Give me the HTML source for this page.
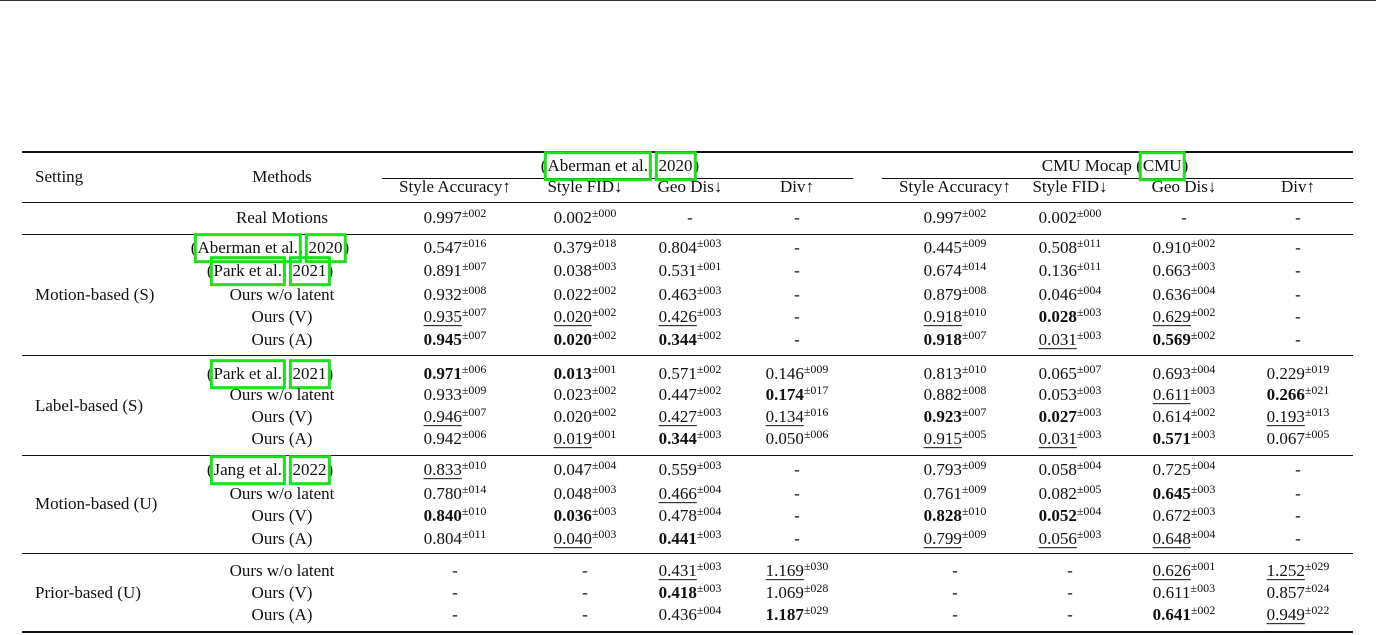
<!DOCTYPE html>
<html><head><meta charset="utf-8"><style>
body{margin:0;width:1376px;height:635px;background:#fff;position:relative;overflow:hidden;font-family:"Liberation Serif",serif;color:#111;font-size:17px}
.c{position:absolute;transform:translate(-50%,-52%);white-space:nowrap;line-height:1}
.l{position:absolute;transform:translateY(-52%);white-space:nowrap;line-height:1}
sup{font-size:12px;vertical-align:6px;line-height:0}
u{text-decoration:underline;text-underline-offset:3px}
.h{position:absolute;background:#111}
.g{outline:3px solid #22dd22;outline-offset:0;padding:2px 1px 3px 1px}
</style></head><body>
<div class="h" style="left:0;top:0;width:1376px;height:1px;background:#333"></div>
<div class="h" style="left:22px;top:151px;width:1331px;height:1.5px"></div>
<div class="h" style="left:382px;top:178px;width:471px;height:1px"></div>
<div class="h" style="left:882px;top:178px;width:471px;height:1px"></div>
<div class="h" style="left:22px;top:202px;width:1331px;height:1px"></div>
<div class="h" style="left:22px;top:234px;width:1331px;height:1px"></div>
<div class="h" style="left:22px;top:355px;width:1331px;height:1px"></div>
<div class="h" style="left:22px;top:455px;width:1331px;height:1px"></div>
<div class="h" style="left:22px;top:553px;width:1331px;height:1px"></div>
<div class="h" style="left:22px;top:631px;width:1331px;height:1.5px"></div>

<div class="l" style="left:35px;top:177px">Setting</div>
<div class="c" style="left:282px;top:177px">Methods</div>
<div class="c" style="left:620px;top:166px">(<span class="g">Aberman et al.</span>, <span class="g">2020</span>)</div>
<div class="c" style="left:1115px;top:166px">CMU Mocap (<span class="g">CMU</span>)</div>
<div class="c" style="left:455px;top:187px">Style Accuracy↑</div>
<div class="c" style="left:585px;top:187px">Style FID↓</div>
<div class="c" style="left:690px;top:187px">Geo Dis↓</div>
<div class="c" style="left:797px;top:187px">Div↑</div>
<div class="c" style="left:955px;top:187px">Style Accuracy↑</div>
<div class="c" style="left:1070px;top:187px">Style FID↓</div>
<div class="c" style="left:1184px;top:187px">Geo Dis↓</div>
<div class="c" style="left:1298px;top:187px">Div↑</div>

<!-- Real -->
<div class="c" style="left:282px;top:218px">Real Motions</div>
<div class="c" style="left:455px;top:218px">0.997<sup>±002</sup></div>
<div class="c" style="left:585px;top:218px">0.002<sup>±000</sup></div>
<div class="c" style="left:690px;top:218px">-</div>
<div class="c" style="left:797px;top:218px">-</div>
<div class="c" style="left:955px;top:218px">0.997<sup>±002</sup></div>
<div class="c" style="left:1070px;top:218px">0.002<sup>±000</sup></div>
<div class="c" style="left:1184px;top:218px">-</div>
<div class="c" style="left:1298px;top:218px">-</div>

<!-- Motion-based S -->
<div class="l" style="left:35px;top:295px">Motion-based (S)</div>
<div class="c" style="left:270px;top:248px">(<span class="g">Aberman et al.</span>, <span class="g">2020</span>)</div>
<div class="c" style="left:270px;top:271px">(<span class="g">Park et al.</span>, <span class="g">2021</span>)</div>
<div class="c" style="left:282px;top:295px">Ours w/o latent</div>
<div class="c" style="left:282px;top:317px">Ours (V)</div>
<div class="c" style="left:282px;top:340px">Ours (A)</div>

<div class="c" style="left:455px;top:248px">0.547<sup>±016</sup></div>
<div class="c" style="left:585px;top:248px">0.379<sup>±018</sup></div>
<div class="c" style="left:690px;top:248px">0.804<sup>±003</sup></div>
<div class="c" style="left:797px;top:248px">-</div>
<div class="c" style="left:955px;top:248px">0.445<sup>±009</sup></div>
<div class="c" style="left:1070px;top:248px">0.508<sup>±011</sup></div>
<div class="c" style="left:1184px;top:248px">0.910<sup>±002</sup></div>
<div class="c" style="left:1298px;top:248px">-</div>

<div class="c" style="left:455px;top:271px">0.891<sup>±007</sup></div>
<div class="c" style="left:585px;top:271px">0.038<sup>±003</sup></div>
<div class="c" style="left:690px;top:271px">0.531<sup>±001</sup></div>
<div class="c" style="left:797px;top:271px">-</div>
<div class="c" style="left:955px;top:271px">0.674<sup>±014</sup></div>
<div class="c" style="left:1070px;top:271px">0.136<sup>±011</sup></div>
<div class="c" style="left:1184px;top:271px">0.663<sup>±003</sup></div>
<div class="c" style="left:1298px;top:271px">-</div>

<div class="c" style="left:455px;top:295px">0.932<sup>±008</sup></div>
<div class="c" style="left:585px;top:295px">0.022<sup>±002</sup></div>
<div class="c" style="left:690px;top:295px">0.463<sup>±003</sup></div>
<div class="c" style="left:797px;top:295px">-</div>
<div class="c" style="left:955px;top:295px">0.879<sup>±008</sup></div>
<div class="c" style="left:1070px;top:295px">0.046<sup>±004</sup></div>
<div class="c" style="left:1184px;top:295px">0.636<sup>±004</sup></div>
<div class="c" style="left:1298px;top:295px">-</div>

<div class="c" style="left:455px;top:317px"><u>0.935</u><sup>±007</sup></div>
<div class="c" style="left:585px;top:317px"><u>0.020</u><sup>±002</sup></div>
<div class="c" style="left:690px;top:317px"><u>0.426</u><sup>±003</sup></div>
<div class="c" style="left:797px;top:317px">-</div>
<div class="c" style="left:955px;top:317px"><u>0.918</u><sup>±010</sup></div>
<div class="c" style="left:1070px;top:317px"><b>0.028</b><sup>±003</sup></div>
<div class="c" style="left:1184px;top:317px"><u>0.629</u><sup>±002</sup></div>
<div class="c" style="left:1298px;top:317px">-</div>

<div class="c" style="left:455px;top:340px"><b>0.945</b><sup>±007</sup></div>
<div class="c" style="left:585px;top:340px"><b>0.020</b><sup>±002</sup></div>
<div class="c" style="left:690px;top:340px"><b>0.344</b><sup>±002</sup></div>
<div class="c" style="left:797px;top:340px">-</div>
<div class="c" style="left:955px;top:340px"><b>0.918</b><sup>±007</sup></div>
<div class="c" style="left:1070px;top:340px"><u>0.031</u><sup>±003</sup></div>
<div class="c" style="left:1184px;top:340px"><b>0.569</b><sup>±002</sup></div>
<div class="c" style="left:1298px;top:340px">-</div>

<!-- Label-based S -->
<div class="l" style="left:35px;top:406px">Label-based (S)</div>
<div class="c" style="left:270px;top:374px">(<span class="g">Park et al.</span>, <span class="g">2021</span>)</div>
<div class="c" style="left:282px;top:395px">Ours w/o latent</div>
<div class="c" style="left:282px;top:417px">Ours (V)</div>
<div class="c" style="left:282px;top:439px">Ours (A)</div>

<div class="c" style="left:455px;top:374px"><b>0.971</b><sup>±006</sup></div>
<div class="c" style="left:585px;top:374px"><b>0.013</b><sup>±001</sup></div>
<div class="c" style="left:690px;top:374px">0.571<sup>±002</sup></div>
<div class="c" style="left:797px;top:374px">0.146<sup>±009</sup></div>
<div class="c" style="left:955px;top:374px">0.813<sup>±010</sup></div>
<div class="c" style="left:1070px;top:374px">0.065<sup>±007</sup></div>
<div class="c" style="left:1184px;top:374px">0.693<sup>±004</sup></div>
<div class="c" style="left:1298px;top:374px">0.229<sup>±019</sup></div>

<div class="c" style="left:455px;top:395px">0.933<sup>±009</sup></div>
<div class="c" style="left:585px;top:395px">0.023<sup>±002</sup></div>
<div class="c" style="left:690px;top:395px">0.447<sup>±002</sup></div>
<div class="c" style="left:797px;top:395px"><b>0.174</b><sup>±017</sup></div>
<div class="c" style="left:955px;top:395px">0.882<sup>±008</sup></div>
<div class="c" style="left:1070px;top:395px">0.053<sup>±003</sup></div>
<div class="c" style="left:1184px;top:395px"><u>0.611</u><sup>±003</sup></div>
<div class="c" style="left:1298px;top:395px"><b>0.266</b><sup>±021</sup></div>

<div class="c" style="left:455px;top:417px"><u>0.946</u><sup>±007</sup></div>
<div class="c" style="left:585px;top:417px">0.020<sup>±002</sup></div>
<div class="c" style="left:690px;top:417px"><u>0.427</u><sup>±003</sup></div>
<div class="c" style="left:797px;top:417px"><u>0.134</u><sup>±016</sup></div>
<div class="c" style="left:955px;top:417px"><b>0.923</b><sup>±007</sup></div>
<div class="c" style="left:1070px;top:417px"><b>0.027</b><sup>±003</sup></div>
<div class="c" style="left:1184px;top:417px">0.614<sup>±002</sup></div>
<div class="c" style="left:1298px;top:417px"><u>0.193</u><sup>±013</sup></div>

<div class="c" style="left:455px;top:439px">0.942<sup>±006</sup></div>
<div class="c" style="left:585px;top:439px"><u>0.019</u><sup>±001</sup></div>
<div class="c" style="left:690px;top:439px"><b>0.344</b><sup>±003</sup></div>
<div class="c" style="left:797px;top:439px">0.050<sup>±006</sup></div>
<div class="c" style="left:955px;top:439px"><u>0.915</u><sup>±005</sup></div>
<div class="c" style="left:1070px;top:439px"><u>0.031</u><sup>±003</sup></div>
<div class="c" style="left:1184px;top:439px"><b>0.571</b><sup>±003</sup></div>
<div class="c" style="left:1298px;top:439px">0.067<sup>±005</sup></div>

<!-- Motion-based U -->
<div class="l" style="left:35px;top:504px">Motion-based (U)</div>
<div class="c" style="left:270px;top:470px">(<span class="g">Jang et al.</span>, <span class="g">2022</span>)</div>
<div class="c" style="left:282px;top:494px">Ours w/o latent</div>
<div class="c" style="left:282px;top:516px">Ours (V)</div>
<div class="c" style="left:282px;top:539px">Ours (A)</div>

<div class="c" style="left:455px;top:470px"><u>0.833</u><sup>±010</sup></div>
<div class="c" style="left:585px;top:470px">0.047<sup>±004</sup></div>
<div class="c" style="left:690px;top:470px">0.559<sup>±003</sup></div>
<div class="c" style="left:797px;top:470px">-</div>
<div class="c" style="left:955px;top:470px">0.793<sup>±009</sup></div>
<div class="c" style="left:1070px;top:470px">0.058<sup>±004</sup></div>
<div class="c" style="left:1184px;top:470px">0.725<sup>±004</sup></div>
<div class="c" style="left:1298px;top:470px">-</div>

<div class="c" style="left:455px;top:494px">0.780<sup>±014</sup></div>
<div class="c" style="left:585px;top:494px">0.048<sup>±003</sup></div>
<div class="c" style="left:690px;top:494px"><u>0.466</u><sup>±004</sup></div>
<div class="c" style="left:797px;top:494px">-</div>
<div class="c" style="left:955px;top:494px">0.761<sup>±009</sup></div>
<div class="c" style="left:1070px;top:494px">0.082<sup>±005</sup></div>
<div class="c" style="left:1184px;top:494px"><b>0.645</b><sup>±003</sup></div>
<div class="c" style="left:1298px;top:494px">-</div>

<div class="c" style="left:455px;top:516px"><b>0.840</b><sup>±010</sup></div>
<div class="c" style="left:585px;top:516px"><b>0.036</b><sup>±003</sup></div>
<div class="c" style="left:690px;top:516px">0.478<sup>±004</sup></div>
<div class="c" style="left:797px;top:516px">-</div>
<div class="c" style="left:955px;top:516px"><b>0.828</b><sup>±010</sup></div>
<div class="c" style="left:1070px;top:516px"><b>0.052</b><sup>±004</sup></div>
<div class="c" style="left:1184px;top:516px">0.672<sup>±003</sup></div>
<div class="c" style="left:1298px;top:516px">-</div>

<div class="c" style="left:455px;top:539px">0.804<sup>±011</sup></div>
<div class="c" style="left:585px;top:539px"><u>0.040</u><sup>±003</sup></div>
<div class="c" style="left:690px;top:539px"><b>0.441</b><sup>±003</sup></div>
<div class="c" style="left:797px;top:539px">-</div>
<div class="c" style="left:955px;top:539px"><u>0.799</u><sup>±009</sup></div>
<div class="c" style="left:1070px;top:539px"><u>0.056</u><sup>±003</sup></div>
<div class="c" style="left:1184px;top:539px"><u>0.648</u><sup>±004</sup></div>
<div class="c" style="left:1298px;top:539px">-</div>

<!-- Prior-based U -->
<div class="l" style="left:35px;top:593px">Prior-based (U)</div>
<div class="c" style="left:282px;top:571px">Ours w/o latent</div>
<div class="c" style="left:282px;top:593px">Ours (V)</div>
<div class="c" style="left:282px;top:615px">Ours (A)</div>

<div class="c" style="left:455px;top:571px">-</div>
<div class="c" style="left:585px;top:571px">-</div>
<div class="c" style="left:690px;top:571px"><u>0.431</u><sup>±003</sup></div>
<div class="c" style="left:797px;top:571px"><u>1.169</u><sup>±030</sup></div>
<div class="c" style="left:955px;top:571px">-</div>
<div class="c" style="left:1070px;top:571px">-</div>
<div class="c" style="left:1184px;top:571px"><u>0.626</u><sup>±001</sup></div>
<div class="c" style="left:1298px;top:571px"><u>1.252</u><sup>±029</sup></div>

<div class="c" style="left:455px;top:593px">-</div>
<div class="c" style="left:585px;top:593px">-</div>
<div class="c" style="left:690px;top:593px"><b>0.418</b><sup>±003</sup></div>
<div class="c" style="left:797px;top:593px">1.069<sup>±028</sup></div>
<div class="c" style="left:955px;top:593px">-</div>
<div class="c" style="left:1070px;top:593px">-</div>
<div class="c" style="left:1184px;top:593px">0.611<sup>±003</sup></div>
<div class="c" style="left:1298px;top:593px">0.857<sup>±024</sup></div>

<div class="c" style="left:455px;top:615px">-</div>
<div class="c" style="left:585px;top:615px">-</div>
<div class="c" style="left:690px;top:615px">0.436<sup>±004</sup></div>
<div class="c" style="left:797px;top:615px"><b>1.187</b><sup>±029</sup></div>
<div class="c" style="left:955px;top:615px">-</div>
<div class="c" style="left:1070px;top:615px">-</div>
<div class="c" style="left:1184px;top:615px"><b>0.641</b><sup>±002</sup></div>
<div class="c" style="left:1298px;top:615px"><u>0.949</u><sup>±022</sup></div>
</body></html>
